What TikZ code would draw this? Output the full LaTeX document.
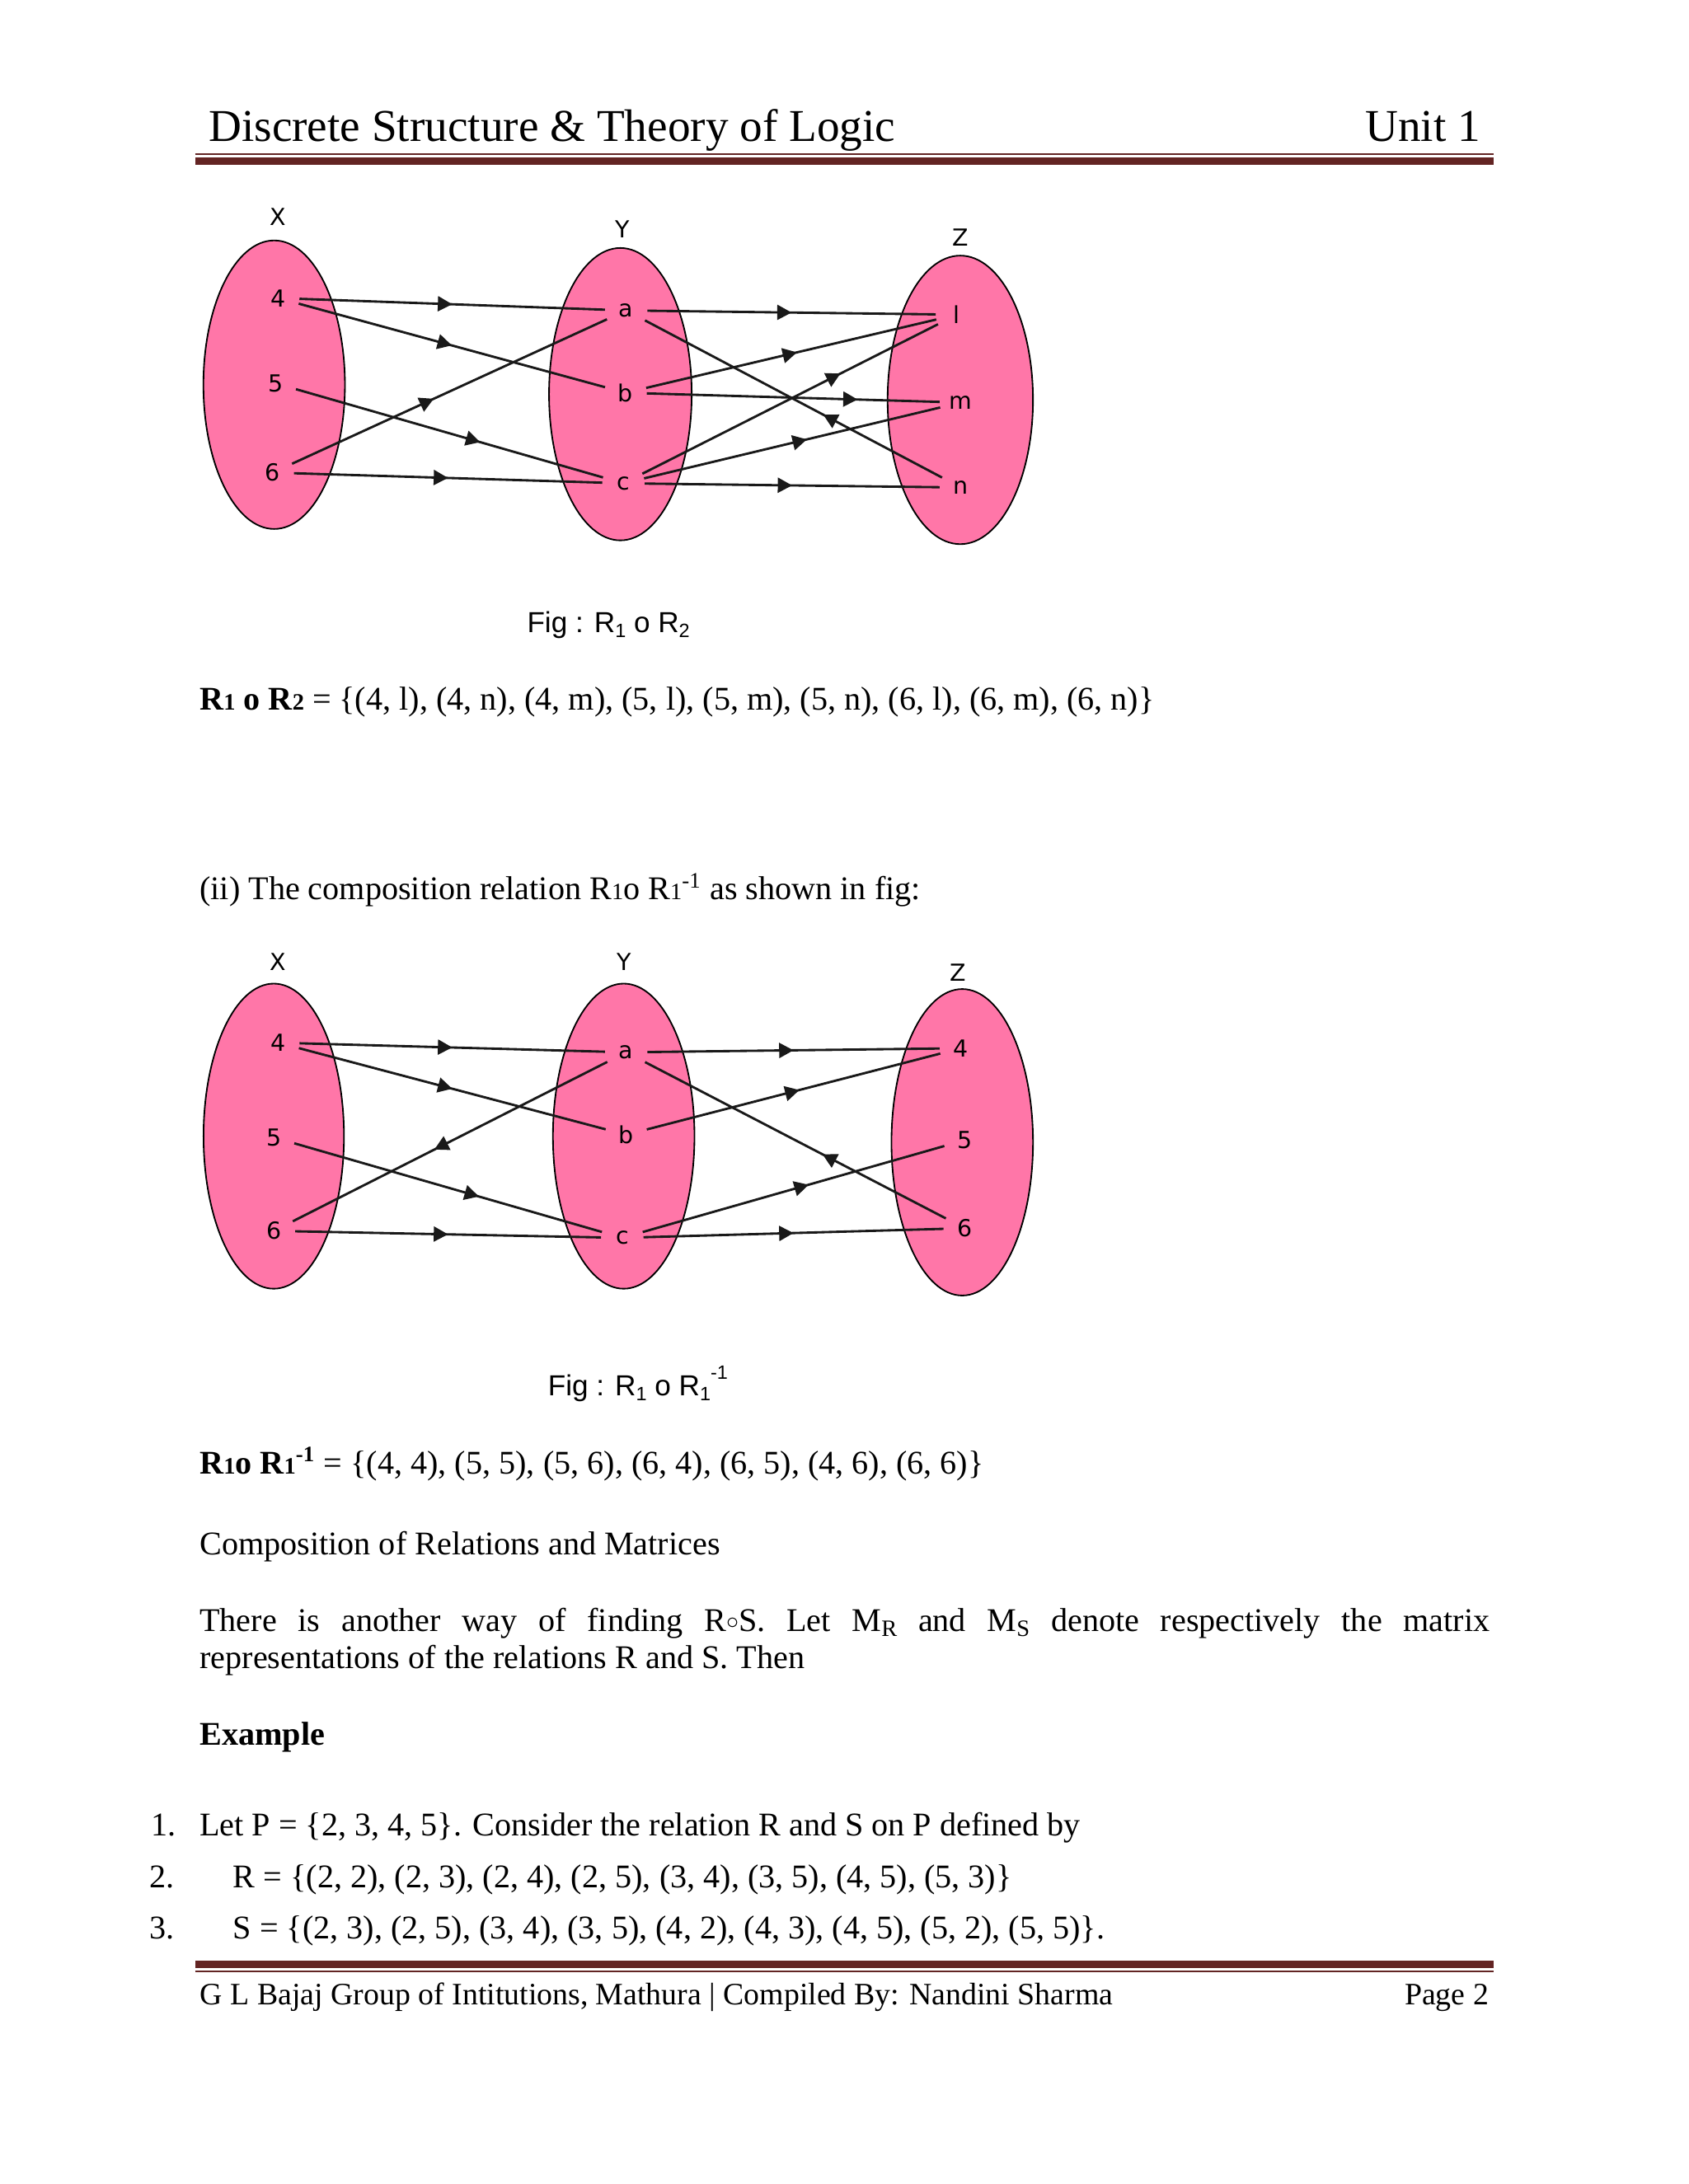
\documentclass[tikz,border=0pt]{standalone}
\usepackage{fontspec}
\setmainfont{Liberation Serif}
\setsansfont{Liberation Sans}
\newfontfamily\lblfont{DejaVu Sans}
\usetikzlibrary{shapes.geometric,decorations.markings,arrows.meta}
\definecolor{pinkfill}{RGB}{255,118,168}
\definecolor{rulecol}{RGB}{99,36,35}
\newcommand\bsub[1]{{\fontsize{8.5}{9}\selectfont #1}}
\newcommand\lsub[1]{\raisebox{-0.35ex}{\fontsize{8.5}{9}\selectfont #1}}
\newcommand\capsub[1]{\raisebox{-0.35ex}{\fontsize{7}{7}\selectfont #1}}
\newcommand\capsup[1]{\raisebox{1.1ex}{\fontsize{7}{7}\selectfont #1}}
\tikzset{
  setell/.style={ellipse, draw=black, line width=0.55pt, fill=pinkfill, inner sep=0pt},
  elem/.style={circle, inner sep=0pt, minimum size=15pt, font=\lblfont\fontsize{8.5}{10}\selectfont},
  setlbl/.style={inner sep=0pt, font=\lblfont\fontsize{8.5}{10}\selectfont},
  rel/.style={line width=0.85pt, draw=black!90, postaction={decorate},
    decoration={markings, mark=at position #1 with {\arrow{Triangle[length=5.2pt,width=5.4pt]}}}},
  rel/.default=0.5,
  relback/.style={line width=0.85pt, draw=black!90, postaction={decorate},
    decoration={markings, mark=at position #1 with {\arrowreversed{Triangle[length=5.2pt,width=5.4pt]}}}},
  relback/.default=0.5,
  bodytxt/.style={inner sep=0pt, anchor=base west, font=\fontsize{12}{14}\selectfont},
  captxt/.style={inner sep=0pt, anchor=base west, font=\sffamily\fontsize{10.5}{12}\selectfont},
}
\begin{document}
\begin{tikzpicture}[x=0.50495pt, y=-0.50495pt]
\useasboundingbox (0,0) rectangle (1212,1568);
\fill[white] (0,0) rectangle (1212,1568);

% header
\node[inner sep=0pt, anchor=base west, font=\fontsize{16.5}{18}\selectfont] (htitle) at (149.5,101.6) {Discrete Structure \& Theory of Logic};
\node[inner sep=0pt, anchor=base east, font=\fontsize{16.5}{18}\selectfont] (hunit) at (1063,101.6) {Unit 1};
\draw[rulecol, line width=0.6pt] (140,110.7) -- (1072,110.7);
\fill[rulecol] (140,113) rectangle (1072,118.5);

% ---------- figure 1 ----------
\node[setell, minimum width=51.3pt, minimum height=104.6pt] (EX1) at (196.8,276.2) {};
\node[setell, minimum width=51.7pt, minimum height=106pt] (EY1) at (445.3,283) {};
\node[setell, minimum width=52.7pt, minimum height=104.6pt] (EZ1) at (689.3,287.1) {};
\node[setlbl] (LX1) at (199.8,155.8) {X};
\node[setlbl] (LY1) at (446.7,164.7) {Y};
\node[setlbl] (LZ1) at (689.7,170.6) {Z};
\node[elem] (x4) at (199.7,214) {4};
\node[elem] (x5) at (197.8,275.2) {5};
\node[elem] (x6) at (195.8,339.3) {6};
\node[elem] (ya) at (449.5,222.9) {a};
\node[elem] (yb) at (449,282) {b};
\node[elem] (yc) at (447.5,347) {c};
\node[elem] (zl) at (686.9,225.9) {l};
\node[elem] (zm) at (689.7,289) {m};
\node[elem] (zn) at (689.7,350) {n};
\draw[rel=0.5] (x4) -- (ya);
\draw[rel=0.5] (x4) -- (yb);
\draw[rel=0.6] (x5) -- (yc);
\draw[rel=0.45] (x6) -- (ya);
\draw[rel=0.5] (x6) -- (yc);
\draw[rel=0.5] (ya) -- (zl);
\draw[relback=0.6] (ya) -- (zn);
\draw[rel=0.52] (yb) -- (zl);
\draw[rel=0.72] (yb) -- (zm);
\draw[rel=0.67] (yc) -- (zl);
\draw[rel=0.55] (yc) -- (zm);
\draw[rel=0.5] (yc) -- (zn);
\node[captxt] (cap1) at (378,454) {Fig : R\capsub{1} o R\capsub{2}};

\node[bodytxt] (t1) at (143,509.5) {\textbf{R\bsub{1} o R\bsub{2}} = \{(4, l), (4, n), (4, m), (5, l), (5, m), (5, n), (6, l), (6, m), (6, n)\}};
\node[bodytxt] (t2) at (143,646) {(ii) The composition relation R\bsub{1}o R\bsub{1}\textsuperscript{-1} as shown in fig:};

% ---------- figure 2 ----------
\node[setell, minimum width=50.9pt, minimum height=110.6pt] (EX2) at (196.5,815.7) {};
\node[setell, minimum width=51.3pt, minimum height=110.6pt] (EY2) at (447.7,815.7) {};
\node[setell, minimum width=51.3pt, minimum height=111.1pt] (EZ2) at (690.7,820.1) {};
\node[setlbl] (LX2) at (199.8,690.4) {X};
\node[setlbl] (LY2) at (447.9,690.4) {Y};
\node[setlbl] (LZ2) at (687.7,698.3) {Z};
\node[elem] (p4) at (199.8,748.6) {4};
\node[elem] (p5) at (196.6,816.6) {5};
\node[elem] (p6) at (196.6,883.7) {6};
\node[elem] (qa) at (449.5,755.5) {a};
\node[elem] (qb) at (449.5,814.7) {b};
\node[elem] (qc) at (446.7,888.7) {c};
\node[elem] (r4) at (689.7,752.6) {4};
\node[elem] (r5) at (692.5,818.6) {5};
\node[elem] (r6) at (692.5,881.8) {6};
\draw[rel=0.5] (p4) -- (qa);
\draw[rel=0.5] (p4) -- (qb);
\draw[rel=0.6] (p5) -- (qc);
\draw[relback=0.45] (p6) -- (qa);
\draw[rel=0.5] (p6) -- (qc);
\draw[rel=0.5] (qa) -- (r4);
\draw[relback=0.59] (qa) -- (r6);
\draw[rel=0.52] (qb) -- (r4);
\draw[rel=0.55] (qc) -- (r5);
\draw[rel=0.5] (qc) -- (r6);
\node[captxt] (cap2) at (393,1002) {Fig : R\capsub{1} o R\capsub{1}\capsup{-1}};

\node[bodytxt] (t3) at (143,1058) {\textbf{R\bsub{1}o R\bsub{1}\textsuperscript{-1}} = \{(4, 4), (5, 5), (5, 6), (6, 4), (6, 5), (4, 6), (6, 6)\}};
\node[bodytxt] (t4) at (143,1116) {Composition of Relations and Matrices};
\node[bodytxt] (t5) at (143,1171) {\makebox[467.6pt][s]{There is another way of finding R\raisebox{0.15ex}{\scalebox{0.75}{$\circ$}}S. Let M\lsub{R} and M\lsub{S} denote respectively the matrix}};
\node[bodytxt] (t6) at (143,1198) {representations of the relations R and S. Then};
\node[bodytxt] (t7) at (143,1253) {\textbf{Example}};
\node[bodytxt] (n1) at (108,1318) {1.};
\node[bodytxt] (l1) at (143,1318) {Let P = \{2, 3, 4, 5\}. Consider the relation R and S on P defined by};
\node[bodytxt] (n2) at (107,1355) {2.};
\node[bodytxt] (l2) at (167,1355) {R = \{(2, 2), (2, 3), (2, 4), (2, 5), (3, 4), (3, 5), (4, 5), (5, 3)\}};
\node[bodytxt] (n3) at (107,1392) {3.};
\node[bodytxt] (l3) at (167,1392) {S = \{(2, 3), (2, 5), (3, 4), (3, 5), (4, 2), (4, 3), (4, 5), (5, 2), (5, 5)\}.};

% footer
\fill[rulecol] (140,1407.4) rectangle (1072,1413.2);
\draw[rulecol, line width=0.6pt] (140,1415.6) -- (1072,1415.6);
\node[inner sep=0pt, anchor=base west, font=\fontsize{11.3}{13}\selectfont] (foot) at (143.3,1439) {G L Bajaj Group of Intitutions, Mathura | Compiled By: Nandini Sharma};
\node[inner sep=0pt, anchor=base east, font=\fontsize{11.3}{13}\selectfont] (page) at (1069,1439) {Page 2};
\end{tikzpicture}
\end{document}
